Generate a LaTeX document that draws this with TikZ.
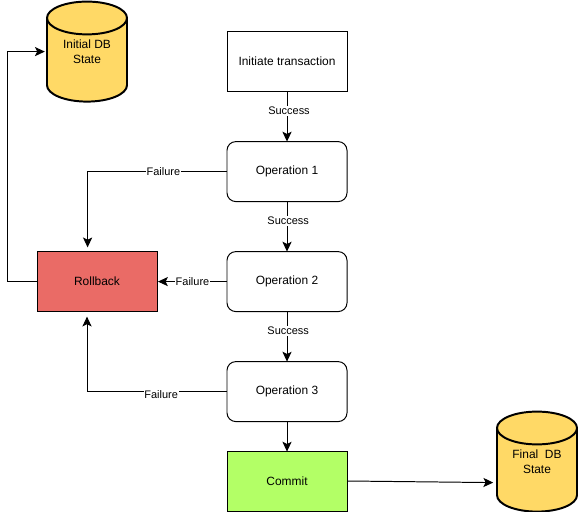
\documentclass[tikz,border=0pt]{standalone}
\usepackage{fontspec}
\setmainfont{Liberation Sans}
\usetikzlibrary{arrows.meta}
\definecolor{ink}{gray}{0}
\definecolor{dbfill}{RGB}{255,217,102}
\definecolor{rollfill}{RGB}{234,107,102}
\definecolor{commitfill}{RGB}{179,255,102}

\begin{document}
\begin{tikzpicture}[
  box/.style={draw=ink, line width=.7pt, align=center, font=\fontsize{8.5}{10}\selectfont,
              minimum width=3cm, minimum height=1.5cm, outer sep=0pt},
  opbox/.style={box, rounded corners=2.2mm},
  db/.style={align=center, font=\fontsize{8.5}{10.7}\selectfont,
             minimum width=2cm, minimum height=2.5cm, inner sep=0pt, outer sep=0pt},
  dbcan/.pic={
    \draw[draw=ink, line width=1.4pt, fill=dbfill]
      (-1,.84) -- (-1,-.84) arc[start angle=180, end angle=360, x radius=1, y radius=.41]
      -- (1,.84) arc[start angle=0, end angle=180, x radius=1, y radius=.41] -- cycle;
    \draw[draw=ink, line width=1.4pt]
      (-1,.84) arc[start angle=180, end angle=360, x radius=1, y radius=.41];
  },
  ar/.style={-{Stealth[length=7pt, width=6.5pt, inset=1.6pt]}, draw=ink, line width=.7pt},
  lab/.style={fill=white, font=\fontsize{7.8}{9}\selectfont, inner sep=.6pt},
]
\useasboundingbox (0,.015) rectangle (14.475,12.815);

\pic at (2.175,11.525) {dbcan};
\node[db] (initdb) at (2.175,11.525) {Initial DB\\State};
\pic at (13.425,1.275) {dbcan};
\node[db] (finaldb) at (13.425,1.275) {Final~~DB\\State};

\node[box] (init) at (7.175,11.275) {Initiate transaction};
\node[opbox] (op1) at (7.175,8.525) {Operation 1};
\node[opbox] (op2) at (7.175,5.775) {Operation 2};
\node[opbox] (op3) at (7.175,3.025) {Operation 3};
\node[box, fill=commitfill] (commit) at (7.175,0.775) {Commit};
\node[box, fill=rollfill] (rollback) at (2.425,5.775) {Rollback};

\coordinate (rolltop) at (2.19,6.63);
\coordinate (rollbot) at (2.175,4.9);
\coordinate (rollside) at (3.95,5.775);
\coordinate (dbside) at (1.12,11.525);
\coordinate (leftrun) at (0.175,5.775);
\coordinate (finalin) at (12.33,0.75);

\draw[ar] (init) -- node[lab, xshift=.05cm, yshift=.14cm] (s0) {Success} (op1);
\draw[ar] (op1) -- node[lab, xshift=.03cm, yshift=.14cm] (s1) {Success} (op2);
\draw[ar] (op2) -- node[lab, xshift=.03cm, yshift=.14cm] (s2) {Success} (op3);
\draw[ar] (op3) -- (commit);

\draw[ar] (op1.west) -| node[lab, pos=.228] (f1) {Failure} (rolltop);
\draw[ar] (op2.west) -- node[lab, pos=.5] (f2) {Failure} (rollside);
\draw[ar] (op3.west) -| node[lab, pos=.235, yshift=-.08cm] (f3) {Failure} (rollbot);

\draw[ar] (rollback.west) -- (leftrun) |- (dbside);
\draw[ar] (commit.east |- 0,0.79) -- (finalin);
\end{tikzpicture}
\end{document}
